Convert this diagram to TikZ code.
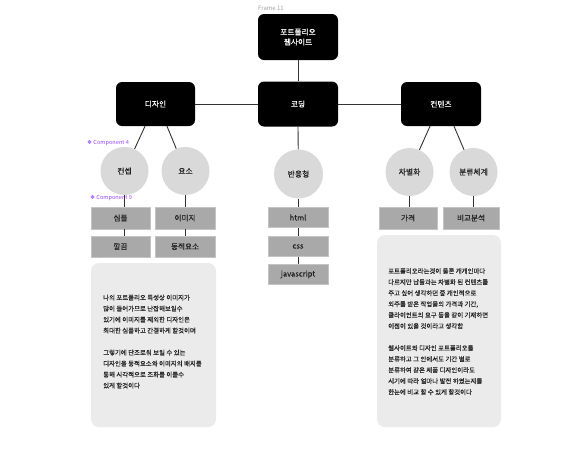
\documentclass[tikz,border=0pt]{standalone}
\usepackage{fontspec}
\setmainfont{Noto Sans CJK KR}[FakeBold=0.15]
\newfontfamily\plainfont{Noto Sans CJK KR}
\newfontfamily\symfont{DejaVu Sans}
\definecolor{circfill}{HTML}{D9D9D9}
\definecolor{rectfill}{HTML}{A9A9A9}
\definecolor{rectedge}{HTML}{C4C4C4}
\definecolor{panelfill}{HTML}{EBEBEB}
\definecolor{linecol}{HTML}{333333}
\definecolor{textdark}{HTML}{222222}
\definecolor{purplec}{HTML}{9747FF}
\definecolor{framegray}{HTML}{A0A0A0}
\begin{document}
\begin{tikzpicture}[x=1pt,y=-1pt,
  blackbox/.style={fill=black, rounded corners=6pt, minimum width=80pt, minimum height=45pt, text=white, font=\fontsize{7.7}{10}\selectfont, align=center, inner sep=0pt},
  circ/.style={circle, fill=circfill, minimum size=48pt, inner sep=0pt, font=\fontsize{7.8}{8}\selectfont, text=textdark},
  grect/.style={fill=rectfill, draw=rectedge, line width=0.6pt, minimum width=60pt, minimum height=21pt, inner sep=0pt, font=\fontsize{7.6}{8}\selectfont, text=textdark},
  panel/.style={fill=panelfill, rounded corners=8pt},
  paneltext/.style={anchor=north west, align=left, inner sep=0pt, text=textdark, font=\fontsize{6.4}{11}\selectfont},
  conn/.style={draw=linecol, line width=0.9pt},
  complabel/.style={anchor=west, inner sep=0pt, text=purplec, font=\plainfont\fontsize{5.6}{6}\selectfont}
]
\useasboundingbox (0,0) rectangle (582,451);
\fill[white] (0,0) rectangle (582,451);

\node[anchor=west, inner sep=0pt, text=framegray, font=\plainfont\fontsize{6}{7}\selectfont] (frame) at (258,8) {Frame 11};

% top level
\node[blackbox, minimum height=46pt] (top) at (298,37) {포트폴리오\\웹사이트};
\node[blackbox, minimum width=79pt, minimum height=44pt] (design) at (155.5,104) {디자인};
\node[blackbox, minimum height=45pt] (coding) at (298,104) {코딩};
\node[blackbox, minimum height=44pt] (contents) at (441,104) {컨텐츠};

% circles
\node[circ] (c1) at (124.5,171) {컨셉};
\node[circ] (c2) at (185.5,171) {요소};
\node[circ, minimum size=49pt] (c3) at (298.5,174) {반응형};
\node[circ] (c4) at (409.5,172) {차별화};
\node[circ] (c5) at (473.5,172) {분류체계};

% rects
\node[grect, minimum width=59pt, minimum height=22pt] (s1) at (120.5,218) {심플};
\node[grect, minimum width=59pt] (s2) at (120.5,246.5) {깔끔};
\node[grect, minimum height=22pt] (i1) at (185,218) {이미지};
\node[grect] (i2) at (185,246.5) {동적요소};
\node[grect, minimum height=20pt] (html) at (298,217.5) {html};
\node[grect, minimum height=20pt] (css) at (298,246.5) {css};
\node[grect, minimum height=20pt] (js) at (298,274.5) {javascript};
\node[grect, minimum width=58pt, minimum height=22pt] (price) at (408,218) {가격};
\node[grect, minimum width=56pt, minimum height=22pt] (compare) at (471,218) {비교분석};

% component labels
\node[complabel] (comp4) at (87,143) {{\symfont ❖} Component 4};
\node[complabel] (comp9) at (90,198) {{\symfont ❖} Component 9};

% panels
\fill[panel] (91,263) rectangle (216,427);
\fill[panel] (377,235) rectangle (501,427);
\node[paneltext] (lefttext) at (103,294.5) {나의 포트폴리오 특성상 이미지가\\많이 들어가므로 난잡해보일수\\있기에 이미지를 제외한 디자인은\\최대한 심플하고 간결하게 할것이며\\[11pt]그렇기에 단조로워 보일 수 있는\\디자인을 동적요소와 이미지의 배치를\\통해 시각적으로 조화를 이룰수\\있게 할것이다};
\node[paneltext] (righttext) at (388,268) {포트폴리오라는것이 물론 개개인마다\\다르지만 남들과는 차별화 된 컨텐츠를\\주고 싶어 생각하던 중 개인적으로\\외주를 받은 작업물의 가격과 기간,\\클라이언트의 요구 등을 같이 기재하면\\이점이 있을 것이라고 생각함\\[11pt]웹사이트와 디자인 포트폴리오를\\분류하고 그 안에서도 기간 별로\\분류하여 같은 제품 디자인이라도\\시기에 따라 얼마나 발전 하였는지를\\한눈에 비교 할 수 있게 할것이다};

% connectors
\draw[conn] (top.south) -- (coding.north);
\draw[conn] (design.east) -- (coding.west);
\draw[conn] (coding.east) -- (contents.west);
\draw[conn] ([xshift=-10.5pt]design.south) -- (c1);
\draw[conn] ([xshift=11.5pt]design.south) -- (c2);
\draw[conn] (coding.south) -- (c3);
\draw[conn] ([xshift=-11pt]contents.south) -- (c4);
\draw[conn] ([xshift=13pt]contents.south) -- (c5);
\draw[conn] (c1.south) -- (c1.south |- s1.north);
\draw[conn] (c1.south |- s1.south) -- (c1.south |- s2.north);
\draw[conn] (c2.south) -- (c2.south |- i1.north);
\draw[conn] (c2.south |- i1.south) -- (c2.south |- i2.north);
\draw[conn] (c3.south) -- (c3.south |- html.north);
\draw[conn] (c3.south |- html.south) -- (c3.south |- css.north);
\draw[conn] (c3.south |- css.south) -- (c3.south |- js.north);
\draw[conn] (c4.south) -- (c4.south |- price.north);
\draw[conn] (c5.south) -- (c5.south |- compare.north);
\end{tikzpicture}
\end{document}
